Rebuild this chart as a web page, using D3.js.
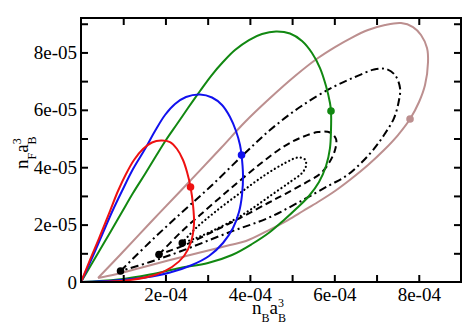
<!DOCTYPE html>
<html>
<head>
<meta charset="utf-8">
<script src="https://cdn.jsdelivr.net/npm/d3@7"></script>
<style>
  html, body { margin: 0; padding: 0; background: #fff; }
  svg { display: block; }
  text { font-family: "Liberation Serif", "DejaVu Serif", serif; fill: #000; }
</style>
</head>
<body>
<svg id="chart" width="474" height="325"></svg>
<script>
// Phase-boundary loops in the (n_B a_B^3, n_F a_B^3) plane.
const xMajorTicks = [2e-4, 4e-4, 6e-4, 8e-4];
const xTickLabels = ["2e-04", "4e-04", "6e-04", "8e-04"];
const xMinorTicks = [1e-4, 2e-4, 3e-4, 4e-4, 5e-4, 6e-4, 7e-4, 8e-4];
const yMajorTicks = [0, 2e-5, 4e-5, 6e-5, 8e-5];
const yTickLabels = ["0", "2e-05", "4e-05", "6e-05", "8e-05"];
const yMinorTicks = [1e-5, 2e-5, 3e-5, 4e-5, 5e-5, 6e-5, 7e-5, 8e-5, 9e-5];

const redCurve = [
  [0, 0], [0.213e-4, 0.767e-5], [0.450e-4, 1.603e-5], [0.687e-4, 2.474e-5],
  [0.876e-4, 3.171e-5], [1.066e-4, 3.763e-5], [1.255e-4, 4.251e-5], [1.468e-4, 4.634e-5],
  [1.682e-4, 4.861e-5], [1.895e-4, 4.930e-5], [2.108e-4, 4.878e-5], [2.274e-4, 4.634e-5],
  [2.416e-4, 4.251e-5], [2.511e-4, 3.833e-5], [2.594e-4, 3.310e-5], [2.653e-4, 2.683e-5],
  [2.676e-4, 2.021e-5], [2.605e-4, 1.394e-5], [2.440e-4, 0.906e-5], [2.155e-4, 0.523e-5],
  [1.753e-4, 0.244e-5], [1.161e-4, 0.070e-5], [0.568e-4, 0.010e-5], [0, 0]
];
const blueCurve = [
  [0, 0], [0.261e-4, 0.836e-5], [0.497e-4, 1.638e-5], [0.734e-4, 2.439e-5],
  [0.971e-4, 3.171e-5], [1.232e-4, 3.937e-5], [1.516e-4, 4.634e-5], [1.753e-4, 5.261e-5],
  [1.990e-4, 5.819e-5], [2.226e-4, 6.202e-5], [2.487e-4, 6.446e-5], [2.819e-4, 6.533e-5],
  [3.103e-4, 6.429e-5], [3.340e-4, 6.167e-5], [3.529e-4, 5.749e-5], [3.671e-4, 5.261e-5],
  [3.766e-4, 4.774e-5], [3.802e-4, 4.425e-5], [3.837e-4, 3.728e-5], [3.813e-4, 3.031e-5],
  [3.742e-4, 2.439e-5], [3.600e-4, 1.882e-5], [3.363e-4, 1.359e-5], [3.032e-4, 0.906e-5],
  [2.629e-4, 0.592e-5], [2.108e-4, 0.331e-5], [1.516e-4, 0.157e-5], [0.805e-4, 0.052e-5], [0, 0]
];
const greenCurve = [
  [0, 0], [0.237e-4, 0.592e-5], [0.474e-4, 1.185e-5], [0.711e-4, 1.777e-5],
  [0.971e-4, 2.439e-5], [1.232e-4, 3.101e-5], [1.516e-4, 3.763e-5], [1.776e-4, 4.390e-5],
  [2.013e-4, 4.948e-5], [2.274e-4, 5.505e-5], [2.534e-4, 6.063e-5], [2.819e-4, 6.655e-5],
  [3.079e-4, 7.178e-5], [3.363e-4, 7.666e-5], [3.647e-4, 8.084e-5], [3.979e-4, 8.432e-5],
  [4.287e-4, 8.641e-5], [4.619e-4, 8.728e-5], [4.950e-4, 8.659e-5], [5.235e-4, 8.397e-5],
  [5.471e-4, 7.979e-5], [5.661e-4, 7.456e-5], [5.803e-4, 6.829e-5], [5.897e-4, 6.237e-5],
  [5.921e-4, 5.958e-5], [5.921e-4, 5.296e-5], [5.897e-4, 4.669e-5], [5.803e-4, 4.042e-5],
  [5.637e-4, 3.484e-5], [5.400e-4, 2.997e-5], [5.116e-4, 2.578e-5], [4.808e-4, 2.160e-5],
  [4.476e-4, 1.742e-5], [4.050e-4, 1.324e-5], [3.576e-4, 0.941e-5], [3.008e-4, 0.662e-5],
  [2.345e-4, 0.488e-5], [1.634e-4, 0.261e-5], [0.876e-4, 0.087e-5], [0, 0]
];
const pinkCurve = [
  [0.403e-4, 0.139e-5], [0.924e-4, 0.941e-5], [1.634e-4, 2.056e-5], [2.345e-4, 3.153e-5],
  [3.316e-4, 4.669e-5], [3.884e-4, 5.575e-5], [4.453e-4, 6.376e-5], [5.069e-4, 7.178e-5],
  [5.613e-4, 7.805e-5], [6.016e-4, 8.188e-5], [6.395e-4, 8.502e-5], [6.798e-4, 8.780e-5],
  [7.201e-4, 8.955e-5], [7.580e-4, 9.024e-5], [7.864e-4, 8.885e-5], [8.053e-4, 8.606e-5],
  [8.195e-4, 8.153e-5], [8.219e-4, 7.666e-5], [8.148e-4, 6.864e-5], [8.006e-4, 6.272e-5],
  [7.793e-4, 5.679e-5], [7.508e-4, 5.122e-5], [7.177e-4, 4.599e-5], [6.798e-4, 4.077e-5],
  [6.395e-4, 3.589e-5], [6.016e-4, 3.171e-5], [5.613e-4, 2.787e-5], [5.258e-4, 2.474e-5],
  [4.903e-4, 2.160e-5], [4.429e-4, 1.794e-5], [3.908e-4, 1.429e-5], [3.529e-4, 1.289e-5],
  [2.819e-4, 1.028e-5], [2.108e-4, 0.767e-5], [1.397e-4, 0.488e-5], [0.805e-4, 0.261e-5],
  [0.403e-4, 0.139e-5]
];
const dashDotCurve = [
  [0.936e-4, 0.383e-5], [1.634e-4, 1.394e-5], [2.345e-4, 2.369e-5], [3.055e-4, 3.310e-5],
  [3.813e-4, 4.390e-5], [4.477e-4, 5.296e-5], [5.187e-4, 6.098e-5], [5.969e-4, 6.794e-5],
  [6.490e-4, 7.143e-5], [6.940e-4, 7.404e-5], [7.224e-4, 7.422e-5], [7.437e-4, 7.213e-5],
  [7.556e-4, 6.760e-5], [7.532e-4, 6.341e-5], [7.414e-4, 5.714e-5], [7.177e-4, 5.122e-5],
  [6.916e-4, 4.599e-5], [6.608e-4, 4.111e-5], [6.277e-4, 3.693e-5], [5.850e-4, 3.345e-5],
  [5.211e-4, 2.822e-5], [4.429e-4, 2.230e-5], [3.529e-4, 1.742e-5], [2.345e-4, 1.063e-5],
  [1.634e-4, 0.697e-5], [0.936e-4, 0.383e-5]
];
const dashedCurve = [
  [1.847e-4, 0.958e-5], [2.345e-4, 1.707e-5], [2.819e-4, 2.334e-5], [3.529e-4, 3.240e-5],
  [4.240e-4, 4.111e-5], [4.784e-4, 4.704e-5], [5.187e-4, 5.017e-5], [5.613e-4, 5.226e-5],
  [5.898e-4, 5.209e-5], [6.040e-4, 4.983e-5], [6.016e-4, 4.599e-5], [5.874e-4, 4.146e-5],
  [5.661e-4, 3.763e-5], [5.306e-4, 3.449e-5], [4.832e-4, 3.066e-5], [4.429e-4, 2.753e-5],
  [3.766e-4, 2.230e-5], [3.055e-4, 1.707e-5], [2.463e-4, 1.289e-5], [1.847e-4, 0.958e-5]
];
const dottedCurve = [
  [2.399e-4, 1.359e-5], [2.700e-4, 1.847e-5], [3.174e-4, 2.439e-5], [3.766e-4, 3.101e-5],
  [4.358e-4, 3.728e-5], [4.832e-4, 4.146e-5], [5.140e-4, 4.338e-5], [5.306e-4, 4.268e-5],
  [5.329e-4, 4.042e-5], [5.235e-4, 3.798e-5], [4.950e-4, 3.484e-5], [4.476e-4, 2.997e-5],
  [4.003e-4, 2.509e-5], [3.529e-4, 2.091e-5], [3.055e-4, 1.742e-5], [2.700e-4, 1.516e-5],
  [2.399e-4, 1.359e-5]
];

// Marked points on each loop
const colouredMarkers = [
  { p: [2.594e-4, 3.310e-5], color: "#ee1111" },
  { p: [3.802e-4, 4.425e-5], color: "#1111ee" },
  { p: [5.921e-4, 5.958e-5], color: "#118811" },
  { p: [7.793e-4, 5.679e-5], color: "#bc8f8f" }
];
const blackMarkers = [[0.936e-4, 0.383e-5], [1.847e-4, 0.958e-5], [2.399e-4, 1.359e-5]];

const series = [
  { data: pinkCurve, color: "#bc8f8f", width: 2, dash: null },
  { data: dashDotCurve, color: "#000", width: 2, dash: "8,3.5,2,3.5" },
  { data: dashedCurve, color: "#000", width: 2, dash: "7,4" },
  { data: dottedCurve, color: "#000", width: 2.2, dash: "0.1,4", cap: "round" },
  { data: greenCurve, color: "#118811", width: 2, dash: null },
  { data: blueCurve, color: "#1111ee", width: 2, dash: null },
  { data: redCurve, color: "#ee1111", width: 2, dash: null }
];

const plotLeft = 81, plotRight = 461, plotTop = 18, plotBottom = 282;
const svg = d3.select("#chart");
const x = d3.scaleLinear().domain([0, 9e-4]).range([plotLeft, plotRight]);
const y = d3.scaleLinear().domain([0, 9.2e-5]).range([plotBottom, plotTop]);

const line = d3.line()
  .x(d => x(d[0]))
  .y(d => y(d[1]))
  .curve(d3.curveCatmullRom.alpha(0.5));

const plot = svg.append("g");
plot.selectAll("path.curve")
  .data(series)
  .join("path")
  .attr("class", "curve")
  .attr("d", s => line(s.data))
  .attr("fill", "none")
  .attr("stroke", s => s.color)
  .attr("stroke-width", s => s.width)
  .attr("stroke-dasharray", s => s.dash)
  .attr("stroke-linecap", s => s.cap || "butt")
  .attr("stroke-linejoin", "round");

plot.selectAll("circle.cm")
  .data(colouredMarkers)
  .join("circle")
  .attr("class", "cm")
  .attr("cx", d => x(d.p[0]))
  .attr("cy", d => y(d.p[1]))
  .attr("r", 3.8)
  .attr("fill", d => d.color);

plot.selectAll("circle.bm")
  .data(blackMarkers)
  .join("circle")
  .attr("class", "bm")
  .attr("cx", d => x(d[0]))
  .attr("cy", d => y(d[1]))
  .attr("r", 3.8)
  .attr("fill", "#000");

// Axes: inward ticks on all four sides
const tickLen = 7;
function styleAxis(g) {
  g.attr("font-family", '"Liberation Serif", serif');
  g.select(".domain").remove();
  g.selectAll(".tick line").attr("stroke", "#000").attr("stroke-width", 2);
  g.selectAll("text").style("font-size", "19px").style("font-family", '"Liberation Serif", serif');
}
svg.append("g").attr("transform", `translate(0,${plotBottom})`)
  .call(d3.axisBottom(x).tickValues(xMinorTicks).tickSize(-tickLen).tickFormat(""))
  .call(styleAxis);
svg.append("g").attr("transform", `translate(0,${plotBottom})`)
  .call(d3.axisBottom(x).tickValues(xMajorTicks).tickSize(0).tickPadding(6)
    .tickFormat((d, i) => xTickLabels[i]))
  .call(styleAxis);
svg.append("g").attr("transform", `translate(0,${plotTop})`)
  .call(d3.axisTop(x).tickValues(xMinorTicks).tickSize(-tickLen).tickFormat(""))
  .call(styleAxis);
svg.append("g").attr("transform", `translate(${plotLeft},0)`)
  .call(d3.axisLeft(y).tickValues(yMinorTicks).tickSize(-tickLen).tickFormat(""))
  .call(styleAxis);
svg.append("g").attr("transform", `translate(${plotLeft},0)`)
  .call(d3.axisLeft(y).tickValues(yMajorTicks).tickSize(0).tickPadding(4)
    .tickFormat((d, i) => yTickLabels[i]))
  .call(styleAxis);
svg.append("g").attr("transform", `translate(${plotRight},0)`)
  .call(d3.axisRight(y).tickValues(yMinorTicks).tickSize(-tickLen).tickFormat(""))
  .call(styleAxis);

svg.append("rect")
  .attr("x", plotLeft).attr("y", plotTop)
  .attr("width", plotRight - plotLeft).attr("height", plotBottom - plotTop)
  .attr("fill", "none").attr("stroke", "#000").attr("stroke-width", 2);

// Axis titles: one text element each, with sub/superscript tspans
function axisTitle(g, subA) {
  const t = g.append("text").style("font-size", "19px");
  t.append("tspan").text("n");
  t.append("tspan").attr("dy", 8).style("font-size", "12px").text(subA);
  t.append("tspan").attr("dy", -8).text("a");
  t.append("tspan").attr("dy", 8).style("font-size", "12px").text("B");
  t.append("tspan").attr("dx", -8).attr("dy", -15).style("font-size", "12px").text("3");
}
axisTitle(svg.append("g").attr("transform", "translate(252,313.5)"), "B");
axisTitle(svg.append("g").attr("transform", "translate(28,169) rotate(-90)"), "F");
</script>
</body>
</html>
